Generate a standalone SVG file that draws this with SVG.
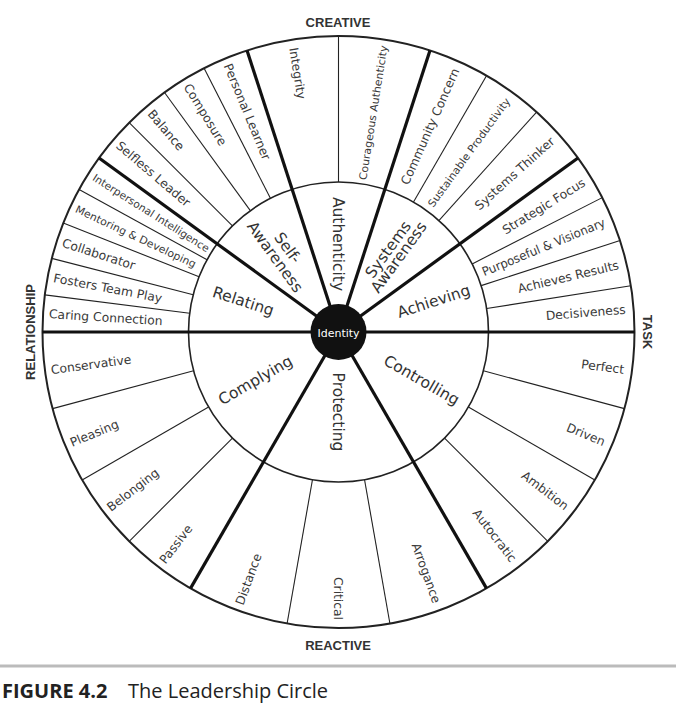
<svg xmlns="http://www.w3.org/2000/svg" width="676" height="711" viewBox="0 0 676 711">
<style>
.o{font-family:"DejaVu Sans",sans-serif;font-size:12.3px;fill:#3a3a3a}
.out{text-anchor:end}
.in{text-anchor:start}
.s{font-size:10.5px}
.i{font-family:"DejaVu Sans",sans-serif;font-size:15.5px;fill:#333;text-anchor:middle}
.thin{stroke:#222;stroke-width:1.1}
.thick{stroke:#111;stroke-width:3.2}
.ax{font-family:"Liberation Sans",Arial,sans-serif;font-weight:bold;font-size:13px;fill:#333;text-anchor:middle}
</style>
<rect width="676" height="711" fill="#fff"/>
<g transform="translate(338.5 332)">
<g id="rings" fill="none" stroke="#222">
<circle r="296" stroke-width="2"/>
<circle r="150" stroke-width="1.6"/>
</g>
<g id="connectors">
<g class="thin">
<line x1="150" x2="296" transform="rotate(-151.2)"/><line x1="150" x2="296" transform="rotate(-158.4)"/><line x1="150" x2="296" transform="rotate(-165.6)"/><line x1="150" x2="296" transform="rotate(-172.8)"/>
<line x1="150" x2="296" transform="rotate(-117)"/><line x1="150" x2="296" transform="rotate(-126)"/><line x1="150" x2="296" transform="rotate(-135)"/>
<line x1="150" x2="296" transform="rotate(-90)"/>
<line x1="150" x2="296" transform="rotate(-48)"/><line x1="150" x2="296" transform="rotate(-60)"/>
<line x1="150" x2="296" transform="rotate(-9)"/><line x1="150" x2="296" transform="rotate(-18)"/><line x1="150" x2="296" transform="rotate(-27)"/>
<line x1="150" x2="296" transform="rotate(-315)"/><line x1="150" x2="296" transform="rotate(-330)"/><line x1="150" x2="296" transform="rotate(-345)"/>
<line x1="150" x2="296" transform="rotate(-260)"/><line x1="150" x2="296" transform="rotate(-280)"/>
<line x1="150" x2="296" transform="rotate(-195)"/><line x1="150" x2="296" transform="rotate(-210)"/><line x1="150" x2="296" transform="rotate(-225)"/>
</g>
<g class="thick">
<line x1="0" x2="296"/><line x1="0" x2="296" transform="rotate(-36)"/><line x1="0" x2="296" transform="rotate(-72)"/><line x1="0" x2="296" transform="rotate(-108)"/><line x1="0" x2="296" transform="rotate(-144)"/><line x1="0" x2="296" transform="rotate(-180)"/><line x1="0" x2="296" transform="rotate(-240)"/><line x1="0" x2="296" transform="rotate(-300)"/>
</g>
</g>
<g id="identity">
<circle r="28" fill="#111"/>
<text x="0" y="4.5" font-family="'DejaVu Sans',sans-serif" font-size="11" fill="#fff" text-anchor="middle">Identity</text>
</g>
<g id="relating">
<text class="i" transform="rotate(-162) translate(100 0) rotate(180)" dy=".35em">Relating</text>
<text class="o in s" transform="rotate(-147.6) translate(290 0) rotate(180)" dy=".35em" textLength="136" lengthAdjust="spacingAndGlyphs">Interpersonal Intelligence</text>
<text class="o in s" transform="rotate(-154.8) translate(290 0) rotate(180)" dy=".35em" textLength="132" lengthAdjust="spacingAndGlyphs">Mentoring &amp; Developing</text>
<text class="o in" transform="rotate(-162) translate(290 0) rotate(180)" dy=".35em">Collaborator</text>
<text class="o in" transform="rotate(-169.2) translate(290 0) rotate(180)" dy=".35em">Fosters Team Play</text>
<text class="o in" transform="rotate(-176.4) translate(290 0) rotate(180)" dy=".35em">Caring Connection</text>
</g>
<g id="self-awareness">
<text class="i" transform="rotate(-126) translate(98 0) rotate(180)"><tspan x="0" dy="-0.2em">Self-</tspan><tspan x="0" dy="1em">Awareness</tspan></text>
<text class="o in" transform="rotate(-139.5) translate(290 0) rotate(180)" dy=".35em">Selfless Leader</text>
<text class="o in" transform="rotate(-130.5) translate(290 0) rotate(180)" dy=".35em">Balance</text>
<text class="o in" transform="rotate(-121.5) translate(290 0) rotate(180)" dy=".35em">Composure</text>
<text class="o in" transform="rotate(-112.5) translate(290 0) rotate(180)" dy=".35em">Personal Learner</text>
</g>
<g id="authenticity">
<text class="i" transform="rotate(-90) translate(88 0) rotate(180)" dy=".35em">Authenticity</text>
<text class="o in" transform="rotate(-99) translate(288 0) rotate(180)" dy=".35em">Integrity</text>
<text class="o out s" transform="rotate(-81) translate(290 0)" dy=".35em" textLength="136" lengthAdjust="spacingAndGlyphs">Courageous Authenticity</text>
</g>
<g id="systems-awareness">
<text class="i" transform="rotate(-54) translate(96 0)"><tspan x="0" dy="-0.2em">Systems</tspan><tspan x="0" dy="0.85em">Awareness</tspan></text>
<text class="o out" transform="rotate(-66) translate(288 0)" dy=".35em">Community Concern</text>
<text class="o out s" transform="rotate(-54) translate(288 0)" dy=".35em" textLength="132" lengthAdjust="spacingAndGlyphs">Sustainable Productivity</text>
<text class="o out" transform="rotate(-42) translate(288 0)" dy=".35em">Systems Thinker</text>
</g>
<g id="achieving">
<text class="i" transform="rotate(-18) translate(100 0)" dy=".35em">Achieving</text>
<text class="o out" transform="rotate(-31.5) translate(288 0)" dy=".35em">Strategic Focus</text>
<text class="o out" transform="rotate(-22.5) translate(288 0)" dy=".35em" textLength="132" lengthAdjust="spacingAndGlyphs">Purposeful &amp; Visionary</text>
<text class="o out" transform="rotate(-13.5) translate(288 0)" dy=".35em">Achieves Results</text>
<text class="o out" transform="rotate(-4.5) translate(288 0)" dy=".35em">Decisiveness</text>
</g>
<g id="controlling">
<text class="i" transform="rotate(30) translate(96 0)" dy=".35em">Controlling</text>
<text class="o out" transform="rotate(7.5) translate(288 0)" dy=".35em">Perfect</text>
<text class="o out" transform="rotate(22.5) translate(288 0)" dy=".35em">Driven</text>
<text class="o out" transform="rotate(37.5) translate(288 0)" dy=".35em">Ambition</text>
<text class="o out" transform="rotate(52.5) translate(288 0)" dy=".35em">Autocratic</text>
</g>
<g id="protecting">
<text class="i" transform="rotate(90) translate(80 0)" dy=".35em">Protecting</text>
<text class="o out" transform="rotate(70) translate(288 0)" dy=".35em">Arrogance</text>
<text class="o out" transform="rotate(90) translate(288 0)" dy=".35em">Critical</text>
<text class="o in" transform="rotate(110) translate(290 0) rotate(180)" dy=".35em">Distance</text>
</g>
<g id="complying">
<text class="i" transform="rotate(150) translate(96 0) rotate(180)" dy=".35em">Complying</text>
<text class="o in" transform="rotate(127.5) translate(290 0) rotate(180)" dy=".35em">Passive</text>
<text class="o in" transform="rotate(142.5) translate(290 0) rotate(180)" dy=".35em">Belonging</text>
<text class="o in" transform="rotate(157.5) translate(290 0) rotate(180)" dy=".35em">Pleasing</text>
<text class="o in" transform="rotate(172.5) translate(290 0) rotate(180)" dy=".35em">Conservative</text>
</g>
</g>
<g id="axes">
<text class="ax" x="338" y="27">CREATIVE</text>
<text class="ax" x="338" y="650">REACTIVE</text>
<text class="ax" transform="translate(35 332) rotate(-90)">RELATIONSHIP</text>
<text class="ax" transform="translate(643 332) rotate(90)">TASK</text>
</g>
<g id="caption">
<line x1="0" y1="666" x2="676" y2="666" stroke="#bbb" stroke-width="3"/>
<text x="2" y="698" font-family="'Open Sans','Liberation Sans',sans-serif" font-size="20" font-weight="bold" fill="#222">FIGURE 4.2</text>
<text x="128" y="698" font-family="'Open Sans','Liberation Sans',sans-serif" font-size="20" fill="#222">The Leadership Circle</text>
</g>
</svg>
